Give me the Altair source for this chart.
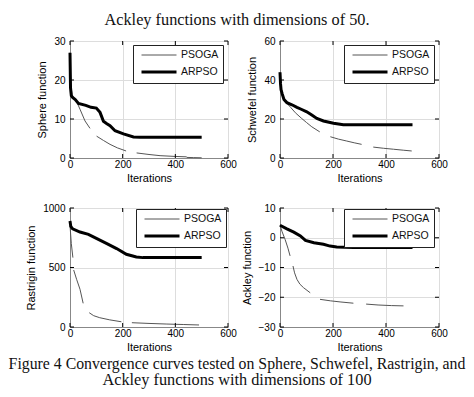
import altair as alt
import pandas as pd

SERIES = ["PSOGA", "ARPSO"]
X_TICKS = [0, 200, 400, 600]

TOP_CAPTION = "Ackley functions with dimensions of 50."
BOTTOM_CAPTION_1 = "Figure 4 Convergence curves tested on Sphere, Schwefel, Rastrigin, and"
BOTTOM_CAPTION_2 = "Ackley functions with dimensions of 100"

# ---- Sphere (top left) ----
SPHERE_TICKS = [0, 10, 20, 30]
SPHERE_ARPSO_X = [0, 2, 5, 10, 20, 32, 60, 80, 100, 114, 127, 140, 152, 171, 203, 241, 266, 500]
SPHERE_ARPSO_Y = [27, 18, 16, 15.5, 15, 14, 13.5, 13, 12.8, 11.7, 9.4, 8.8, 8.3, 7, 6.2, 5.4, 5.3, 5.3]
SPHERE_PSOGA_X = [[0, 3, 8, 15, 25, 38, 57, 76], [101, 127, 152, 180, 213],
                  [253, 300, 342, 400, 443], [443, 470, 500]]
SPHERE_PSOGA_Y = [[27, 19, 16.2, 15.3, 14.5, 12.5, 9.5, 7.6], [5.6, 4.5, 3.5, 2.6, 1.8],
                  [1.3, 0.9, 0.6, 0.4, 0.3], [0.15, 0.1, 0.05]]

# ---- Schwefel (top right) ----
SCHWEFEL_TICKS = [0, 20, 40, 60]
SCHWEFEL_ARPSO_X = [0, 2, 4, 8, 15, 26, 45, 64, 80, 101, 120, 139, 164, 202, 239, 500]
SCHWEFEL_ARPSO_Y = [44, 38, 35, 33, 30, 28.4, 27.3, 26, 25, 23.7, 22, 20.3, 19, 17.8, 17, 17]
SCHWEFEL_PSOGA_X = [[0, 3, 8, 15, 26, 40, 58, 80, 100, 120, 150], [190, 220, 252, 280, 308],
                    [352, 390, 428, 465, 497]]
SCHWEFEL_PSOGA_Y = [[44, 37, 33, 30, 28, 26, 23.2, 20.5, 18.2, 16, 13.4], [10.9, 9.7, 8.7, 7.8, 7.0],
                    [5.6, 5.0, 4.5, 4.0, 3.6]]

# ---- Rastrigin (bottom left) ----
RASTRIGIN_TICKS = [0, 500, 1000]
RASTRIGIN_ARPSO_X = [0, 3, 10, 38, 70, 102, 140, 177, 214, 252, 277, 500]
RASTRIGIN_ARPSO_Y = [890, 845, 825, 798, 779, 743, 701, 659, 611, 588, 583, 583]
RASTRIGIN_PSOGA_X = [[0, 5, 11], [14, 25, 38, 50], [73, 90, 113, 151, 195], [235, 300, 365, 430, 490]]
RASTRIGIN_PSOGA_Y = [[854, 700, 583], [479, 401, 317, 199], [120, 95, 78, 60, 44], [36, 30, 25, 21, 17]]

# ---- Ackley (bottom right) ----
ACKLEY_TICKS = [-30, -20, -10, 0, 10]
ACKLEY_ARPSO_X = [0, 26, 52, 77, 96, 128, 164, 189, 214, 277, 500]
ACKLEY_ARPSO_Y = [4.2, 3.0, 1.9, 0.6, -0.9, -1.7, -2.2, -2.8, -3.1, -3.3, -3.3]
ACKLEY_PSOGA_X = [[0, 8, 19, 30, 38], [49, 55, 64, 75, 89, 114], [151, 190, 230, 277],
                  [325, 370, 420, 466]]
ACKLEY_PSOGA_Y = [[4.2, 2, -0.5, -3.5, -6.1], [-9.5, -11.8, -14, -15.6, -16.8, -18.5],
                  [-20.7, -21.2, -21.6, -22.0], [-22.3, -22.6, -22.8, -22.9]]

SANS = "Liberation Sans"
SERIF = "Liberation Serif"


def build_df(ax, ay, px, py):
    rows = []
    for i, (xs, ys) in enumerate(zip(px, py)):
        for x, y in zip(xs, ys):
            rows.append({"x": x, "y": y, "series": "PSOGA", "seg": f"P{i}"})
    for x, y in zip(ax, ay):
        rows.append({"x": x, "y": y, "series": "ARPSO", "seg": "A"})
    return pd.DataFrame(rows)


def panel(ax, ay, px, py, ytitle, ydomain, yticks, W, H, lx, ly, extra=()):
    df = build_df(ax, ay, px, py)
    xs = alt.Scale(domain=[0, 600], nice=False, zero=False)
    ys = alt.Scale(domain=ydomain, nice=False, zero=False)
    xaxis = alt.Axis(values=X_TICKS, format="d", labelPadding=1, titlePadding=3,
                     labelOverlap=False, labelFlush=False, ticks=False,
                     titleFontWeight="normal")
    yaxis = alt.Axis(values=yticks, format="d", labelPadding=5, titlePadding=6,
                     labelOverlap=False, labelFlush=False, ticks=False,
                     titleFontWeight="normal")
    xenc = alt.X("x:Q", scale=xs, title="Iterations", axis=xaxis)
    yenc = alt.Y("y:Q", scale=ys, title=ytitle, axis=yaxis)
    color = alt.Color("series:N", title=None,
                      scale=alt.Scale(domain=SERIES, range=["#555555", "#000000"]),
                      legend=alt.Legend(orient="none", legendX=lx, legendY=ly,
                                        symbolType="M-0.5,0H6.5", symbolSize=100,
                                        labelFont=SANS, labelFontSize=10.5, labelColor="#111",
                                        strokeColor="#222", fillColor="white",
                                        padding=4.5, rowPadding=5, labelOffset=30.5))
    sw = alt.StrokeWidth("series:N", title=None,
                         scale=alt.Scale(domain=SERIES, range=[1, 3]))
    base = alt.Chart(df)
    psoga = base.transform_filter(alt.datum.series == "PSOGA").mark_line().encode(
        x=xenc, y=yenc, color=color, strokeWidth=sw, detail="seg:N")
    arpso = base.transform_filter(alt.datum.series == "ARPSO").mark_line().encode(
        x=xenc, y=yenc, color=color, strokeWidth=sw, detail="seg:N")

    # inward tick marks on all four sides, placed via the panel's own scales
    xtick_df = pd.DataFrame({"x": X_TICKS})
    ytick_df = pd.DataFrame({"y": yticks})
    t1 = alt.Chart(xtick_df).mark_rule(color="black").encode(
        x=xenc, y=alt.value(H), y2=alt.value(H - 4))
    t2 = alt.Chart(xtick_df).mark_rule(color="black").encode(
        x=xenc, y=alt.value(0), y2=alt.value(4))
    t3 = alt.Chart(ytick_df).mark_rule(color="black").encode(
        y=yenc, x=alt.value(0), x2=alt.value(4))
    t4 = alt.Chart(ytick_df).mark_rule(color="black").encode(
        y=yenc, x=alt.value(W), x2=alt.value(W - 4))
    layers = [psoga, arpso, t1, t2, t3, t4] + list(extra)
    return alt.layer(*layers).properties(width=W, height=H)


top_cap = alt.Chart(pd.DataFrame({"t": [TOP_CAPTION]})).mark_text(
    font=SERIF, fontSize=16.3, align="center", baseline="alphabetic", color="#111"
).encode(text="t:N", x=alt.value(167), y=alt.value(-16))

bot_cap1 = alt.Chart(pd.DataFrame({"t": [BOTTOM_CAPTION_1]})).mark_text(
    font=SERIF, fontSize=15.8, align="center", baseline="alphabetic", color="#111"
).encode(text="t:N", x=alt.value(167), y=alt.value(161))
bot_cap2 = alt.Chart(pd.DataFrame({"t": [BOTTOM_CAPTION_2]})).mark_text(
    font=SERIF, fontSize=16.3, align="center", baseline="alphabetic", color="#111"
).encode(text="t:N", x=alt.value(167), y=alt.value(177))

tl = panel(SPHERE_ARPSO_X, SPHERE_ARPSO_Y, SPHERE_PSOGA_X, SPHERE_PSOGA_Y,
           "Sphere function", [0, 30], SPHERE_TICKS, 158, 117, 63, 4, extra=[top_cap])
tr = panel(SCHWEFEL_ARPSO_X, SCHWEFEL_ARPSO_Y, SCHWEFEL_PSOGA_X, SCHWEFEL_PSOGA_Y,
           "Schwefel function", [0, 60], SCHWEFEL_TICKS, 159, 117, 64, 4)
bl = panel(RASTRIGIN_ARPSO_X, RASTRIGIN_ARPSO_Y, RASTRIGIN_PSOGA_X, RASTRIGIN_PSOGA_Y,
           "Rastrigin function", [0, 1000], RASTRIGIN_TICKS, 158, 119, 66, 1,
           extra=[bot_cap1, bot_cap2])
br = panel(ACKLEY_ARPSO_X, ACKLEY_ARPSO_Y, ACKLEY_PSOGA_X, ACKLEY_PSOGA_Y,
           "Ackley function", [-30, 10], ACKLEY_TICKS, 159, 119, 64, 1)

chart = alt.concat(
    tl, tr, bl, br, columns=2, spacing={"row": 50, "column": 52}, bounds="flush"
).resolve_scale(
    color="independent", strokeWidth="independent"
).resolve_legend(
    color="independent", strokeWidth="independent"
).properties(
    padding={"left": 0, "top": 3, "right": 0, "bottom": 2}
).configure_view(
    stroke="black", strokeWidth=1
).configure_axis(
    labelFont=SANS, labelFontSize=10.5, labelColor="#333", labelOverlap=False,
    titleFont=SANS, titleFontSize=10.5, titleFontWeight="normal", titleColor="#222",
    ticks=False, tickSize=0, domain=False, grid=False
).configure(background="white")

chart.save("out.html", embed_options={"renderer": "svg", "actions": False})
